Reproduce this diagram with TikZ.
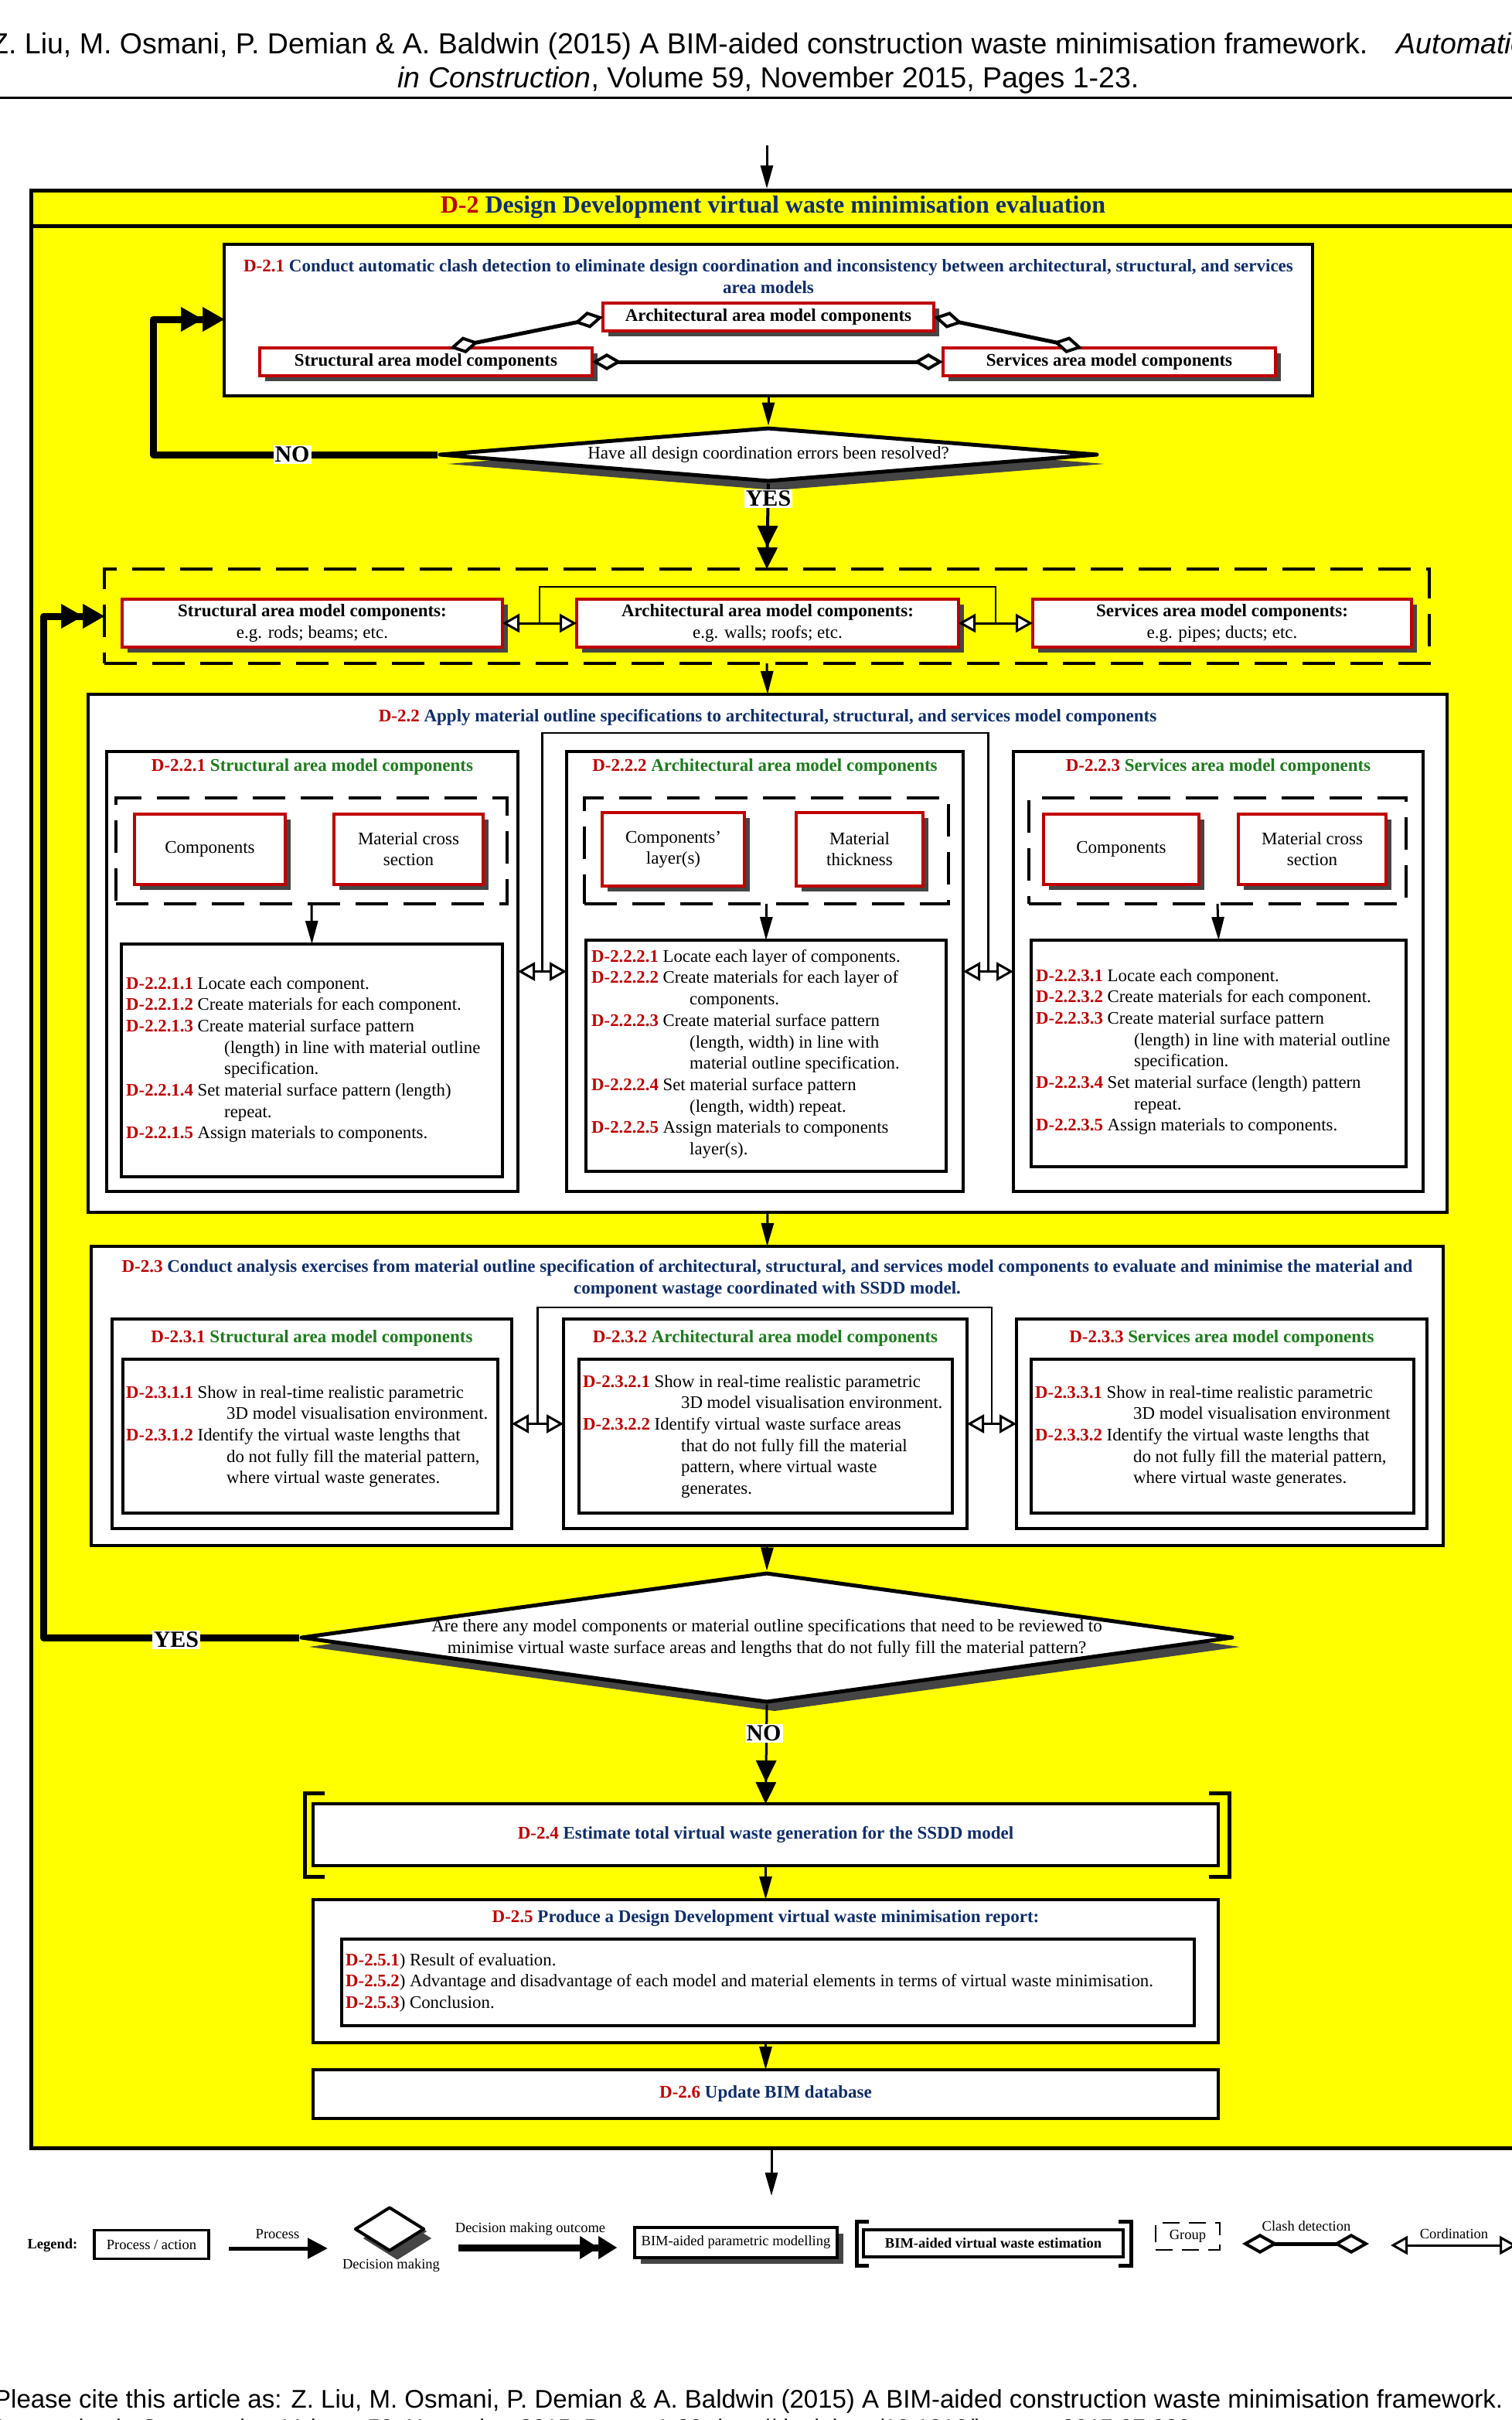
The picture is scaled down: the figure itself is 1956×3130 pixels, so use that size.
\documentclass[tikz,border=0pt]{standalone}
\usepackage{fontspec}
\setmainfont{Liberation Serif}
\newfontfamily\arialf{Liberation Sans}
\usetikzlibrary{arrows.meta,shadows,shapes.geometric,calc}
\definecolor{dred}{HTML}{C00000}
\definecolor{navy}{HTML}{0F2D6B}
\definecolor{dgreen}{HTML}{1C7C1C}
\definecolor{ylw}{HTML}{FFFF00}
\definecolor{shd}{HTML}{454545}
\newcommand\lab[1]{\textbf{\textcolor{dred}{#1}}}
\newcommand\ind{\hspace*{127pt}}
\tikzset{
  blk/.style={draw, line width=4, fill=white, inner sep=0, outer sep=0},
  redbox/.style={draw=dred, line width=4.5, fill=white, inner sep=0, outer sep=0, align=center,
     drop shadow={shadow xshift=7pt, shadow yshift=-7pt, fill=shd, opacity=1}},
  dashbox/.style={draw, line width=3.5, dash pattern=on 42pt off 20pt, inner sep=0, outer sep=0},
  parrow/.style={line width=3, -{Triangle[length=30pt,width=16pt]}},
  darrow/.style={line width=4, -{Triangle[length=28pt,width=26pt] Triangle[length=28pt,width=26pt]}},
  loopln/.style={line width=9, line join=round, -{Triangle[length=28pt,width=32pt,line width=0.5pt] Triangle[length=28pt,width=32pt,line width=0.5pt]}},
  clash/.style={line width=5, {Diamond[fill=white,length=38pt,width=22pt,line width=4pt]}-{Diamond[fill=white,length=38pt,width=22pt,line width=4pt]}},
  coord/.style={line width=3, {Triangle[fill=white,length=22pt,width=24pt,line width=3pt]}-{Triangle[fill=white,length=22pt,width=24pt,line width=3pt]}},
  yn/.style={fill=white, font=\bfseries\fontsize{30}{32}\selectfont, inner sep=2pt},
  dia/.style={shape=diamond, draw, line width=5, fill=white, inner sep=0, line join=round,
     drop shadow={shadow xshift=10pt, shadow yshift=-12pt, fill=shd, opacity=1}},
  ttl/.style={font=\bfseries\fontsize{23}{28}\selectfont, text=navy, align=center, inner sep=0},
  sttl/.style={font=\bfseries\fontsize{23}{28}\selectfont, text=dgreen, inner sep=0},
  rtxt/.style={font=\fontsize{23}{27}\selectfont},
  lst/.style={font=\fontsize{22.8}{27.7}\selectfont, align=left, inner sep=0, anchor=north west},
  lg/.style={font=\fontsize{18.5}{21}\selectfont, inner sep=0},
  hdr/.style={font=\arialf\fontsize{37.5}{42}\selectfont, inner sep=0},
  brk/.style={line width=5},
}
\begin{document}
\begin{tikzpicture}[x=1pt,y=-1pt]
\useasboundingbox (0,0) rectangle (1956,3130);
\fill[white] (0,0) rectangle (1956,3130);

% ---------- header
\node[hdr, anchor=base west] (h1) at (-12,69) {Z. Liu, M. Osmani, P. Demian \& A. Baldwin (2015) A BIM-aided construction waste minimisation framework.\quad\textit{Automation}};
\node[hdr, anchor=base] (h2) at (994,113) {\textit{in Construction}, Volume 59, November 2015, Pages 1-23.};
\draw[line width=3] (0,126) -- (1956,126);

% ---------- main frame
\node[draw, line width=5, fill=ylw, minimum width=1952, minimum height=2532, anchor=north west, inner sep=0] (frame) at (38,244) {};
\coordinate (tb) at (0,292);
\draw[line width=5] (frame.west |- tb) -- (frame.east |- tb);
\node[font=\bfseries\fontsize{32}{36}\selectfont, inner sep=0] (t2) at (1000,268) {\textcolor{dred}{D-2} \textcolor{navy}{Design Development virtual waste minimisation evaluation}};
\coordinate (topin) at (992,188);
\draw[parrow] (topin) -- (topin |- frame.north);

% ---------- D-2.1
\node[blk, minimum width=1408, minimum height=196] (d21) at (994,414) {};
\node[ttl] (d21t) at (994,358) {\lab{D-2.1} Conduct automatic clash detection to eliminate design coordination and inconsistency between architectural, structural, and services\\area models};
\node[redbox, minimum width=428, minimum height=36, font=\bfseries\fontsize{23}{26}\selectfont] (arch) at (994,410) {Architectural area model components};
\node[redbox, minimum width=430, minimum height=36, font=\bfseries\fontsize{23}{26}\selectfont] (strc) at (551,468) {Structural area model components};
\node[redbox, minimum width=430, minimum height=36, font=\bfseries\fontsize{23}{26}\selectfont] (serv) at (1435,468) {Services area model components};
\draw[clash] ([xshift=31pt]strc.north) -- (arch.west);
\draw[clash] (arch.east) -- ([xshift=-35pt]serv.north);
\draw[clash] (strc.east) -- (serv.west);

% ---------- decision 1
\node[dia, minimum width=852, minimum height=70] (dec1) at (994,588) {};
\node[font=\fontsize{23}{26}\selectfont, inner sep=0] (dec1t) at (994,588) {Have all design coordination errors been resolved?};
\draw[parrow] (d21.south) -- (dec1.north);
\coordinate (noc) at (198,413);
\draw[loopln] (dec1.west) -| (noc) -- (d21.west |- noc);
\node[yn] (no1) at (378,588) {NO};

% ---------- group
\node[dashbox, minimum width=1714, minimum height=122] (grp) at (992,797) {};
\draw[darrow] (dec1.south) -- (grp.north);
\node[yn] (yes1) at (994,645) {YES};
\node[redbox, minimum width=492, minimum height=62, font=\fontsize{23}{28}\selectfont] (gs) at (404,806) {\textbf{Structural area model components:}\\e.g. rods; beams; etc.};
\node[redbox, minimum width=494, minimum height=62, font=\fontsize{23}{28}\selectfont] (ga) at (993,806) {\textbf{Architectural area model components:}\\e.g. walls; roofs; etc.};
\node[redbox, minimum width=490, minimum height=62, font=\fontsize{23}{28}\selectfont] (gv) at (1581,806) {\textbf{Services area model components:}\\e.g. pipes; ducts; etc.};
\draw[coord] (gs.east) -- (ga.west);
\draw[coord] (ga.east) -- (gv.west);
\coordinate (m1) at ($(gs.east)!.5!(ga.west)$);
\coordinate (m2) at ($(ga.east)!.5!(gv.west)$);
\coordinate (gb) at (0,759);
\draw[line width=2.5] (m1) -- (m1 |- gb) -| (m2);

% ---------- D-2.2
\node[blk, minimum width=1758, minimum height=670] (d22) at (993,1233) {};
\draw[parrow] (grp.south) -- (d22.north);
\node[ttl] (d22t) at (993,928) {\lab{D-2.2} Apply material outline specifications to architectural, structural, and services model components};

\node[blk, minimum width=532, minimum height=569] (s221) at (404,1256.5) {};
\node[blk, minimum width=513, minimum height=569] (s222) at (989.5,1256.5) {};
\node[blk, minimum width=530, minimum height=569] (s223) at (1576,1256.5) {};
\node[sttl] (s221t) at ([yshift=-20pt]s221.north) {\lab{D-2.2.1} Structural area model components};
\node[sttl] (s222t) at ([yshift=-20pt]s222.north) {\lab{D-2.2.2} Architectural area model components};
\node[sttl] (s223t) at ([yshift=-20pt]s223.north) {\lab{D-2.2.3} Services area model components};

\node[dashbox, minimum width=506, minimum height=137] (g221) at (403,1100.5) {};
\node[dashbox, minimum width=471, minimum height=137] (g222) at (991.5,1100.5) {};
\node[dashbox, minimum width=488, minimum height=137] (g223) at (1575,1100.5) {};
\node[redbox, rtxt, minimum width=195, minimum height=91] (c1) at (271.5,1098.5) {Components};
\node[redbox, rtxt, minimum width=193, minimum height=91] (mt1) at (528.5,1098.5) {Material cross\\section};
\node[redbox, rtxt, minimum width=184, minimum height=95] (c2) at (871,1098.5) {Components’\\layer(s)};
\node[redbox, rtxt, minimum width=164, minimum height=95] (mt2) at (1112,1098.5) {Material\\thickness};
\node[redbox, rtxt, minimum width=201, minimum height=91] (c3) at (1450.5,1098.5) {Components};
\node[redbox, rtxt, minimum width=191, minimum height=91] (mt3) at (1697.5,1098.5) {Material cross\\section};

\node[blk, minimum width=493, minimum height=301] (l221) at (403.5,1371.5) {};
\node[blk, minimum width=466, minimum height=299] (l222) at (991,1365.5) {};
\node[blk, minimum width=485, minimum height=293] (l223) at (1576.5,1362.5) {};
\draw[parrow] (g221.south) -- (l221.north);
\draw[parrow] (g222.south) -- (l222.north);
\draw[parrow] (g223.south) -- (l223.north);

\node[lst] (l221t) at (163,1263) {\lab{D-2.2.1.1} Locate each component.\\
\lab{D-2.2.1.2} Create materials for each component.\\
\lab{D-2.2.1.3} Create material surface pattern\\
\ind(length) in line with material outline\\
\ind specification.\\
\lab{D-2.2.1.4} Set material surface pattern (length)\\
\ind repeat.\\
\lab{D-2.2.1.5} Assign materials to components.};
\node[lst] (l222t) at (765,1228) {\lab{D-2.2.2.1} Locate each layer of components.\\
\lab{D-2.2.2.2} Create materials for each layer of\\
\ind components.\\
\lab{D-2.2.2.3} Create material surface pattern\\
\ind(length, width) in line with\\
\ind material outline specification.\\
\lab{D-2.2.2.4} Set material surface pattern\\
\ind(length, width) repeat.\\
\lab{D-2.2.2.5} Assign materials to components\\
\ind layer(s).};
\node[lst] (l223t) at (1340,1253) {\lab{D-2.2.3.1} Locate each component.\\
\lab{D-2.2.3.2} Create materials for each component.\\
\lab{D-2.2.3.3} Create material surface pattern\\
\ind(length) in line with material outline\\
\ind specification.\\
\lab{D-2.2.3.4} Set material surface (length) pattern\\
\ind repeat.\\
\lab{D-2.2.3.5} Assign materials to components.};

\draw[coord] (s221.east) -- (s222.west);
\draw[coord] (s222.east) -- (s223.west);
\coordinate (m3) at ($(s221.east)!.5!(s222.west)$);
\coordinate (m4) at ($(s222.east)!.5!(s223.west)$);
\coordinate (gb2) at (0,948);
\draw[line width=2.5] (m3) -- (m3 |- gb2) -| (m4);

% ---------- D-2.3
\node[blk, minimum width=1749, minimum height=387] (d23) at (992.5,1805.5) {};
\draw[parrow] (d22.south) -- (d23.north);
\node[ttl] (d23t) at (992.5,1654) {\lab{D-2.3} Conduct analysis exercises from material outline specification of architectural, structural, and services model components to evaluate and minimise the material and\\component wastage coordinated with SSDD model.};
\node[blk, minimum width=517, minimum height=271] (s231) at (403.5,1841.5) {};
\node[blk, minimum width=522, minimum height=271] (s232) at (990,1841.5) {};
\node[blk, minimum width=531, minimum height=271] (s233) at (1580.5,1841.5) {};
\node[sttl] (s231t) at ([yshift=-25pt]s231.north) {\lab{D-2.3.1} Structural area model components};
\node[sttl] (s232t) at ([yshift=-25pt]s232.north) {\lab{D-2.3.2} Architectural area model components};
\node[sttl] (s233t) at ([yshift=-25pt]s233.north) {\lab{D-2.3.3} Services area model components};
\node[blk, minimum width=485, minimum height=199] (l231) at (401.5,1857.5) {};
\node[blk, minimum width=483, minimum height=199] (l232) at (990.5,1857.5) {};
\node[blk, minimum width=495, minimum height=199] (l233) at (1581.5,1857.5) {};
\node[lst] (l231t) at (163,1792) {\lab{D-2.3.1.1} Show in real-time realistic parametric\\
\hspace*{130pt}3D model visualisation environment.\\
\lab{D-2.3.1.2} Identify the virtual waste lengths that\\
\hspace*{130pt}do not fully fill the material pattern,\\
\hspace*{130pt}where virtual waste generates.};
\node[lst] (l232t) at (754,1778) {\lab{D-2.3.2.1} Show in real-time realistic parametric\\
\ind 3D model visualisation environment.\\
\lab{D-2.3.2.2} Identify virtual waste surface areas\\
\ind that do not fully fill the material\\
\ind pattern, where virtual waste\\
\ind generates.};
\node[lst] (l233t) at (1339,1792) {\lab{D-2.3.3.1} Show in real-time realistic parametric\\
\ind 3D model visualisation environment\\
\lab{D-2.3.3.2} Identify the virtual waste lengths that\\
\ind do not fully fill the material pattern,\\
\ind where virtual waste generates.};
\draw[coord] (s231.east) -- (s232.west);
\draw[coord] (s232.east) -- (s233.west);
\coordinate (m5) at ($(s231.east)!.5!(s232.west)$);
\coordinate (m6) at ($(s232.east)!.5!(s233.west)$);
\coordinate (gb3) at (0,1691);
\draw[line width=2.5] (m5) -- (m5 |- gb3) -| (m6);

% ---------- decision 2
\node[dia, minimum width=1206, minimum height=168] (dec2) at (992,2118) {};
\node[font=\fontsize{23}{28}\selectfont, align=center, inner sep=0] (dec2t) at (992,2119) {Are there any model components or material outline specifications that need to be reviewed to\\minimise virtual waste surface areas and lengths that do not fully fill the material pattern?};
\draw[parrow] (d23.south) -- (dec2.north);
\coordinate (yc) at (56,797);
\draw[loopln] (dec2.west) -| (yc) -- (grp.west);
\node[yn] (yes2) at (228,2121) {YES};

% ---------- D-2.4 .. D-2.6
\node[blk, minimum width=1171, minimum height=80] (b24) at (990.5,2373) {};
\node[ttl] (b24t) at (990.5,2373) {\lab{D-2.4} Estimate total virtual waste generation for the SSDD model};
\draw[brk] (420,2319) -- (394,2319) -- (394,2427) -- (420,2427);
\draw[brk] (1564,2319) -- (1590,2319) -- (1590,2427) -- (1564,2427);
\draw[darrow, line width=3] (dec2.south) -- (b24.north);
\node[yn] (no2) at (988,2242) {NO};

\node[blk, minimum width=1171, minimum height=185] (b25) at (990.5,2549.5) {};
\node[ttl] (b25t) at (990.5,2481) {\lab{D-2.5} Produce a Design Development virtual waste minimisation report:};
\node[blk, minimum width=1103, minimum height=112] (b25l) at (993.5,2564) {};
\node[lst] (b25lt) at (447,2526) {\lab{D-2.5.1}) Result of evaluation.\\
\lab{D-2.5.2}) Advantage and disadvantage of each model and material elements in terms of virtual waste minimisation.\\
\lab{D-2.5.3}) Conclusion.};
\draw[parrow] (b24.south) -- (b25.north);

\node[blk, minimum width=1171, minimum height=63] (b26) at (990.5,2708.5) {};
\node[ttl] (b26t) at (990.5,2708) {\lab{D-2.6} Update BIM database};
\draw[parrow] (b25.south) -- (b26.north);

\coordinate (outc) at (998,2840);
\draw[parrow] (outc |- frame.south) -- (outc);

% ---------- legend
\node[lg, font=\bfseries\fontsize{18.5}{21}\selectfont] (lgl) at (68,2904) {Legend:};
\node[blk, line width=3.5, minimum width=148, minimum height=37, lg] (lg1) at (196,2903) {Process / action};
\coordinate (lp1) at (296,2908);
\coordinate (lp2) at (424,2908);
\draw[line width=5, -{Triangle[length=26pt,width=26pt]}] (lp1) -- (lp2);
\node[lg] (lg2) at (359,2889) {Process};
\node[dia, line width=4, minimum width=90, minimum height=57, drop shadow={shadow xshift=4pt, shadow yshift=-3pt, fill=shd, opacity=1}] (lg3) at (504,2883) {};
\node[lg] (lg3t) at (506,2930) {Decision making};
\coordinate (lo1) at (593,2907);
\coordinate (lo2) at (798,2907);
\draw[loopln, -{Triangle[length=24pt,width=30pt,line width=0.5pt] Triangle[length=24pt,width=30pt,line width=0.5pt]}] (lo1) -- (lo2);
\node[lg] (lg4) at (686,2883) {Decision making outcome};
\node[blk, lg, minimum width=262, minimum height=39, drop shadow={shadow xshift=8pt, shadow yshift=-8pt, fill=shd, opacity=1}] (lg5) at (952,2900.5) {BIM-aided parametric modelling};
\node[blk, minimum width=336, minimum height=35, font=\bfseries\fontsize{18.5}{21}\selectfont] (lg6) at (1285,2901.5) {BIM-aided virtual waste estimation};
\draw[line width=5] (1124,2873) -- (1108,2873) -- (1108,2930) -- (1124,2930);
\draw[line width=5] (1447,2873) -- (1463,2873) -- (1463,2930) -- (1447,2930);
\node[draw, line width=2.5, dash pattern=on 22pt off 12pt, minimum width=83, minimum height=35, lg] (lg7) at (1536.5,2892.5) {Group};
\coordinate (lc1) at (1607,2902);
\coordinate (lc2) at (1771,2902);
\draw[line width=5, {Diamond[fill=white,length=46pt,width=26pt,line width=4pt]}-{Diamond[fill=white,length=46pt,width=26pt,line width=4pt]}] (lc1) -- (lc2);
\node[lg] (lg8) at (1690,2879) {Clash detection};
\coordinate (lk1) at (1799,2904);
\coordinate (lk2) at (1962,2904);
\draw[coord] (lk1) -- (lk2);
\node[lg] (lg9) at (1881,2889) {Cordination};

% ---------- footer
\node[hdr, font=\arialf\fontsize{33}{38}\selectfont, anchor=base west] (f1) at (-8,3114) {Please cite this article as: Z. Liu, M. Osmani, P. Demian \& A. Baldwin (2015) A BIM-aided construction waste minimisation framework.};
\node[hdr, font=\arialf\fontsize{30}{36}\selectfont, anchor=base west] (f2) at (-10,3150) {Automation in Construction, Volume 59, November 2015, Pages 1-23. http://dx.doi.org/10.1016/j.autcon.2015.07.020};
\end{tikzpicture}
\end{document}
